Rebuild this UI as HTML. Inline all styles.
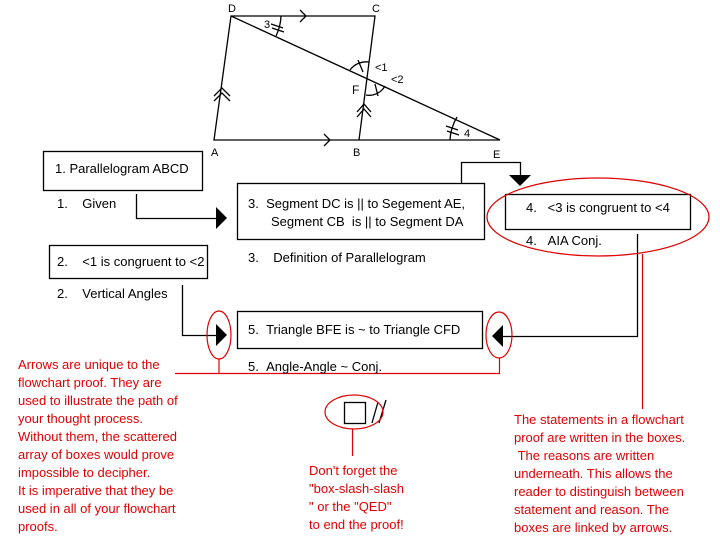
<!DOCTYPE html>
<html><head><meta charset="utf-8"><style>
body{margin:0;background:#fff}
svg{display:block}
text{font-family:"Liberation Sans",sans-serif;font-size:13px;fill:#000}
.r{fill:#e00000}
</style></head><body>
<svg width="720" height="540" viewBox="0 0 720 540" xmlns="http://www.w3.org/2000/svg">
<g stroke="#000" stroke-width="1.3" fill="none">
<polygon points="231,16 375,16 359,140 214,140"/>
<line x1="359" y1="140" x2="500" y2="140"/>
<line x1="231" y1="16" x2="500" y2="140"/>
<polyline points="300,10 306,16 300,22"/>
<polyline points="324,134 330,140 324,146"/>
<polyline points="214,96 222,88 230,96"/><polyline points="214,101 222,93 230,101"/>
<polyline points="357,112 364,104 371,112"/><polyline points="357,117 364,109 371,117"/>
<path d="M281,16 A50,50 0 0 1 276,36"/><line x1="271" y1="24" x2="283" y2="28"/><line x1="272" y1="28" x2="284" y2="32"/>
<path d="M350,70 A20,20 0 0 1 369,62"/><line x1="358" y1="60" x2="363" y2="72"/>
<path d="M366,95 A18,18 0 0 0 385,86"/><line x1="375" y1="84" x2="378" y2="96"/>
<path d="M450,140 A50,50 0 0 1 457,117"/><line x1="446" y1="126" x2="458" y2="130"/><line x1="447" y1="131" x2="459" y2="135"/>
<rect x="43.5" y="151.5" width="159" height="39"/>
<rect x="237.5" y="183.5" width="247" height="56"/>
<rect x="505.5" y="194.5" width="185" height="35"/>
<rect x="49.5" y="245.5" width="158" height="33"/>
<rect x="237.5" y="311.5" width="245" height="37"/>
<polyline points="136.5,194 136.5,218.5 216,218.5"/>
<polyline points="461.5,183 461.5,162.5 520.5,162.5 520.5,176"/>
<polyline points="182.5,285 182.5,335.5 216,335.5"/>
<polyline points="503,336.5 637.5,336.5 637.5,234"/>
<rect x="344.5" y="402.5" width="21" height="21"/>
<line x1="372" y1="423" x2="378" y2="402"/><line x1="379" y1="423" x2="386" y2="400"/>
</g>
<g fill="#000">
<polygon points="216,207 227,218 216,229"/>
<polygon points="509,175 531,175 520,186"/>
<polygon points="216,324 227,335 216,346"/>
<polygon points="503,325 492,336 503,347"/>
</g>
<g stroke="#e00000" stroke-width="1.2" fill="none">
<ellipse cx="598" cy="217" rx="111" ry="39"/>
<ellipse cx="219" cy="335" rx="12" ry="24"/>
<ellipse cx="499" cy="335" rx="13" ry="23"/>
<ellipse cx="354" cy="412" rx="29" ry="17"/>
<polyline points="175,373.5 500,373.5"/>
<line x1="219" y1="359" x2="219" y2="373"/>
<line x1="499.5" y1="358" x2="499.5" y2="373"/>
<line x1="642.5" y1="254" x2="642.5" y2="409"/>
<line x1="352.5" y1="429" x2="352.5" y2="456"/>
</g>
<g style="font-size:11px">
<text x="228" y="12" style="font-size:11px">D</text><text x="372" y="12" style="font-size:11px">C</text><text x="211" y="156" style="font-size:11px">A</text><text x="353" y="156" style="font-size:11px">B</text><text x="493" y="158" style="font-size:11px">E</text>
<text x="264" y="28" style="font-size:11px">3</text><text x="375" y="71" style="font-size:11px">&lt;1</text><text x="391" y="83" style="font-size:11px">&lt;2</text><text x="352" y="94" style="font-size:12px">F</text><text x="464" y="137" style="font-size:11px">4</text>
</g>
<text x="55" y="173">1. Parallelogram ABCD</text>
<text x="57" y="208">1.&#160;&#160;&#160;&#160;Given</text>
<text x="248" y="208">3.&#160;&#160;Segment DC is || to Segement AE,</text>
<text x="271" y="226">Segment CB&#160;&#160;is || to Segment DA</text>
<text x="248" y="262">3.&#160;&#160;&#160;&#160;Definition of Parallelogram</text>
<text x="526" y="212">4.&#160;&#160;&#160;&lt;3 is congruent to &lt;4</text>
<text x="526" y="245">4.&#160;&#160;&#160;AIA Conj.</text>
<text x="57" y="266">2.&#160;&#160;&#160;&#160;&lt;1 is congruent to &lt;2</text>
<text x="57" y="298">2.&#160;&#160;&#160;&#160;Vertical Angles</text>
<text x="248" y="334">5.&#160;&#160;Triangle BFE is ~ to Triangle CFD</text>
<text x="248" y="371">5.&#160;&#160;Angle-Angle ~ Conj.</text>
<g>
<text class="r" x="18" y="369">Arrows are unique to the</text>
<text class="r" x="18" y="387">flowchart proof.  They are</text>
<text class="r" x="18" y="405">used to illustrate the path of</text>
<text class="r" x="18" y="423">your thought process.</text>
<text class="r" x="18" y="441">Without them, the scattered</text>
<text class="r" x="18" y="459">array of boxes would prove</text>
<text class="r" x="18" y="477">impossible to decipher.</text>
<text class="r" x="18" y="495">It is imperative that they be</text>
<text class="r" x="18" y="513">used in all of your flowchart</text>
<text class="r" x="18" y="531">proofs.</text>
<text class="r" x="309" y="475">Don't forget the</text>
<text class="r" x="309" y="493">"box-slash-slash</text>
<text class="r" x="309" y="511">" or the "QED"</text>
<text class="r" x="309" y="529">to end the proof!</text>
<text class="r" x="514" y="424">The statements in a flowchart</text>
<text class="r" x="514" y="442">proof are written in the boxes.</text>
<text class="r" x="514" y="460">&#160;The reasons are written</text>
<text class="r" x="514" y="478">underneath.  This allows the</text>
<text class="r" x="514" y="496">reader to distinguish between</text>
<text class="r" x="514" y="514">statement and reason.  The</text>
<text class="r" x="514" y="532">boxes are linked by arrows.</text>
</g>
</svg>
</body></html>
